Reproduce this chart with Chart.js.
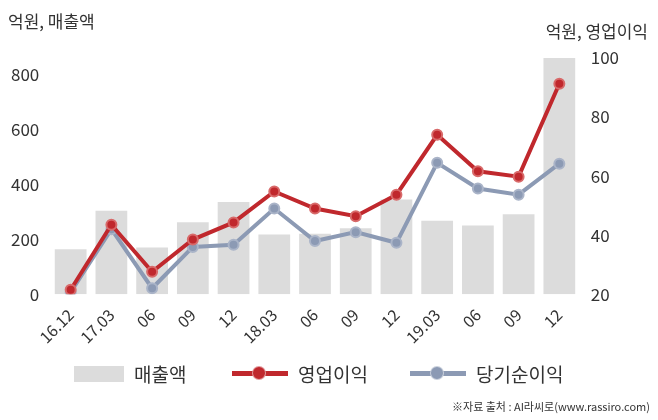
<!DOCTYPE html>
<html><head><meta charset="utf-8">
<script src="https://cdn.jsdelivr.net/npm/chart.js@4/dist/chart.umd.min.js"></script>
<style>body{margin:0;background:#fff;font-family:"Noto Sans CJK KR";}
#w{position:relative;width:658px;height:420px;}
.t{position:absolute;font-size:17px;color:#333;font-family:"Noto Sans CJK KR";}
.lg{position:absolute;top:360px;font-size:19px;color:#333;font-family:"Noto Sans CJK KR";display:flex;align-items:center;}
.ln{position:relative;width:56px;height:5px;margin-right:10px;}
.ln i{position:absolute;left:20px;top:-5px;width:12px;height:12px;border-radius:50%;border:1px solid #fff8;}
</style></head><body>
<div id="w"><canvas id="c" width="658" height="420"></canvas>
<div class="t" style="left:8px;top:8px">억원, 매출액</div>
<div class="t" style="right:10px;top:18px">억원, 영업이익</div>
<div class="lg" style="left:74px"><div style="width:50px;height:16px;background:#dcdcdc;margin-right:10px"></div>매출액</div>
<div class="lg" style="left:232px"><div class="ln" style="background:#c0282d"><i style="background:#c0282d"></i></div>영업이익</div>
<div class="lg" style="left:410px"><div class="ln" style="background:#8c9ab4"><i style="background:#8c9ab4"></i></div>당기순이익</div>
<div class="t" style="right:8px;top:398px;font-size:11px">※자료 출처 : AI라씨로(www.rassiro.com)</div>
</div>
<script>
const categories=["16.12","17.03","06","09","12","18.03","06","09","12","19.03","06","09","12"];
const sales=[164,304,170,262,336,217,220,240,345,267,250,291,860];
const opProfit=[21.5,43.5,27.6,38.5,44.3,54.8,49,46.4,53.7,74,61.6,59.8,91.3];
const netProfit=[20.7,42,22,36,36.7,49,38,41,37.4,64.5,55.8,53.7,64.2];
const leftTicks=[0,200,400,600,800];
const rightTicks=[20,40,60,80,100];
const f={family:"Noto Sans CJK KR",size:17};
new Chart(document.getElementById('c'),{
data:{labels:categories,datasets:[
{type:'line',label:'영업이익',data:opProfit,yAxisID:'y1',borderColor:'#c0282d',backgroundColor:'#c0282d',borderWidth:4,pointRadius:5,pointBorderWidth:2,pointBackgroundColor:'#c0282d',pointBorderColor:'#d86a6a',order:1},
{type:'line',label:'당기순이익',data:netProfit,yAxisID:'y1',borderColor:'#8c9ab4',backgroundColor:'#8c9ab4',borderWidth:4,pointRadius:5,pointBorderWidth:2,pointBackgroundColor:'#8c9ab4',pointBorderColor:'#aab4c8',order:2},
{type:'bar',label:'매출액',data:sales,yAxisID:'y',backgroundColor:'#dcdcdc',barPercentage:0.78,categoryPercentage:1,order:3}
]},
options:{responsive:false,animation:false,
layout:{padding:{top:58,left:8,right:36,bottom:70}},
plugins:{legend:{display:false}},
scales:{
x:{grid:{display:false},border:{display:false},ticks:{font:{...f,size:16},color:'#333',maxRotation:45,minRotation:45}},
y:{position:'left',min:0,max:860,grid:{display:false},border:{display:false},
afterBuildTicks:a=>{a.ticks=leftTicks.map(v=>({value:v}))},ticks:{font:f,color:'#333'}},
y1:{position:'right',min:20,max:100,grid:{display:false},border:{display:false},
afterBuildTicks:a=>{a.ticks=rightTicks.map(v=>({value:v}))},ticks:{font:f,color:'#333'}}
}}});
</script></body></html>
